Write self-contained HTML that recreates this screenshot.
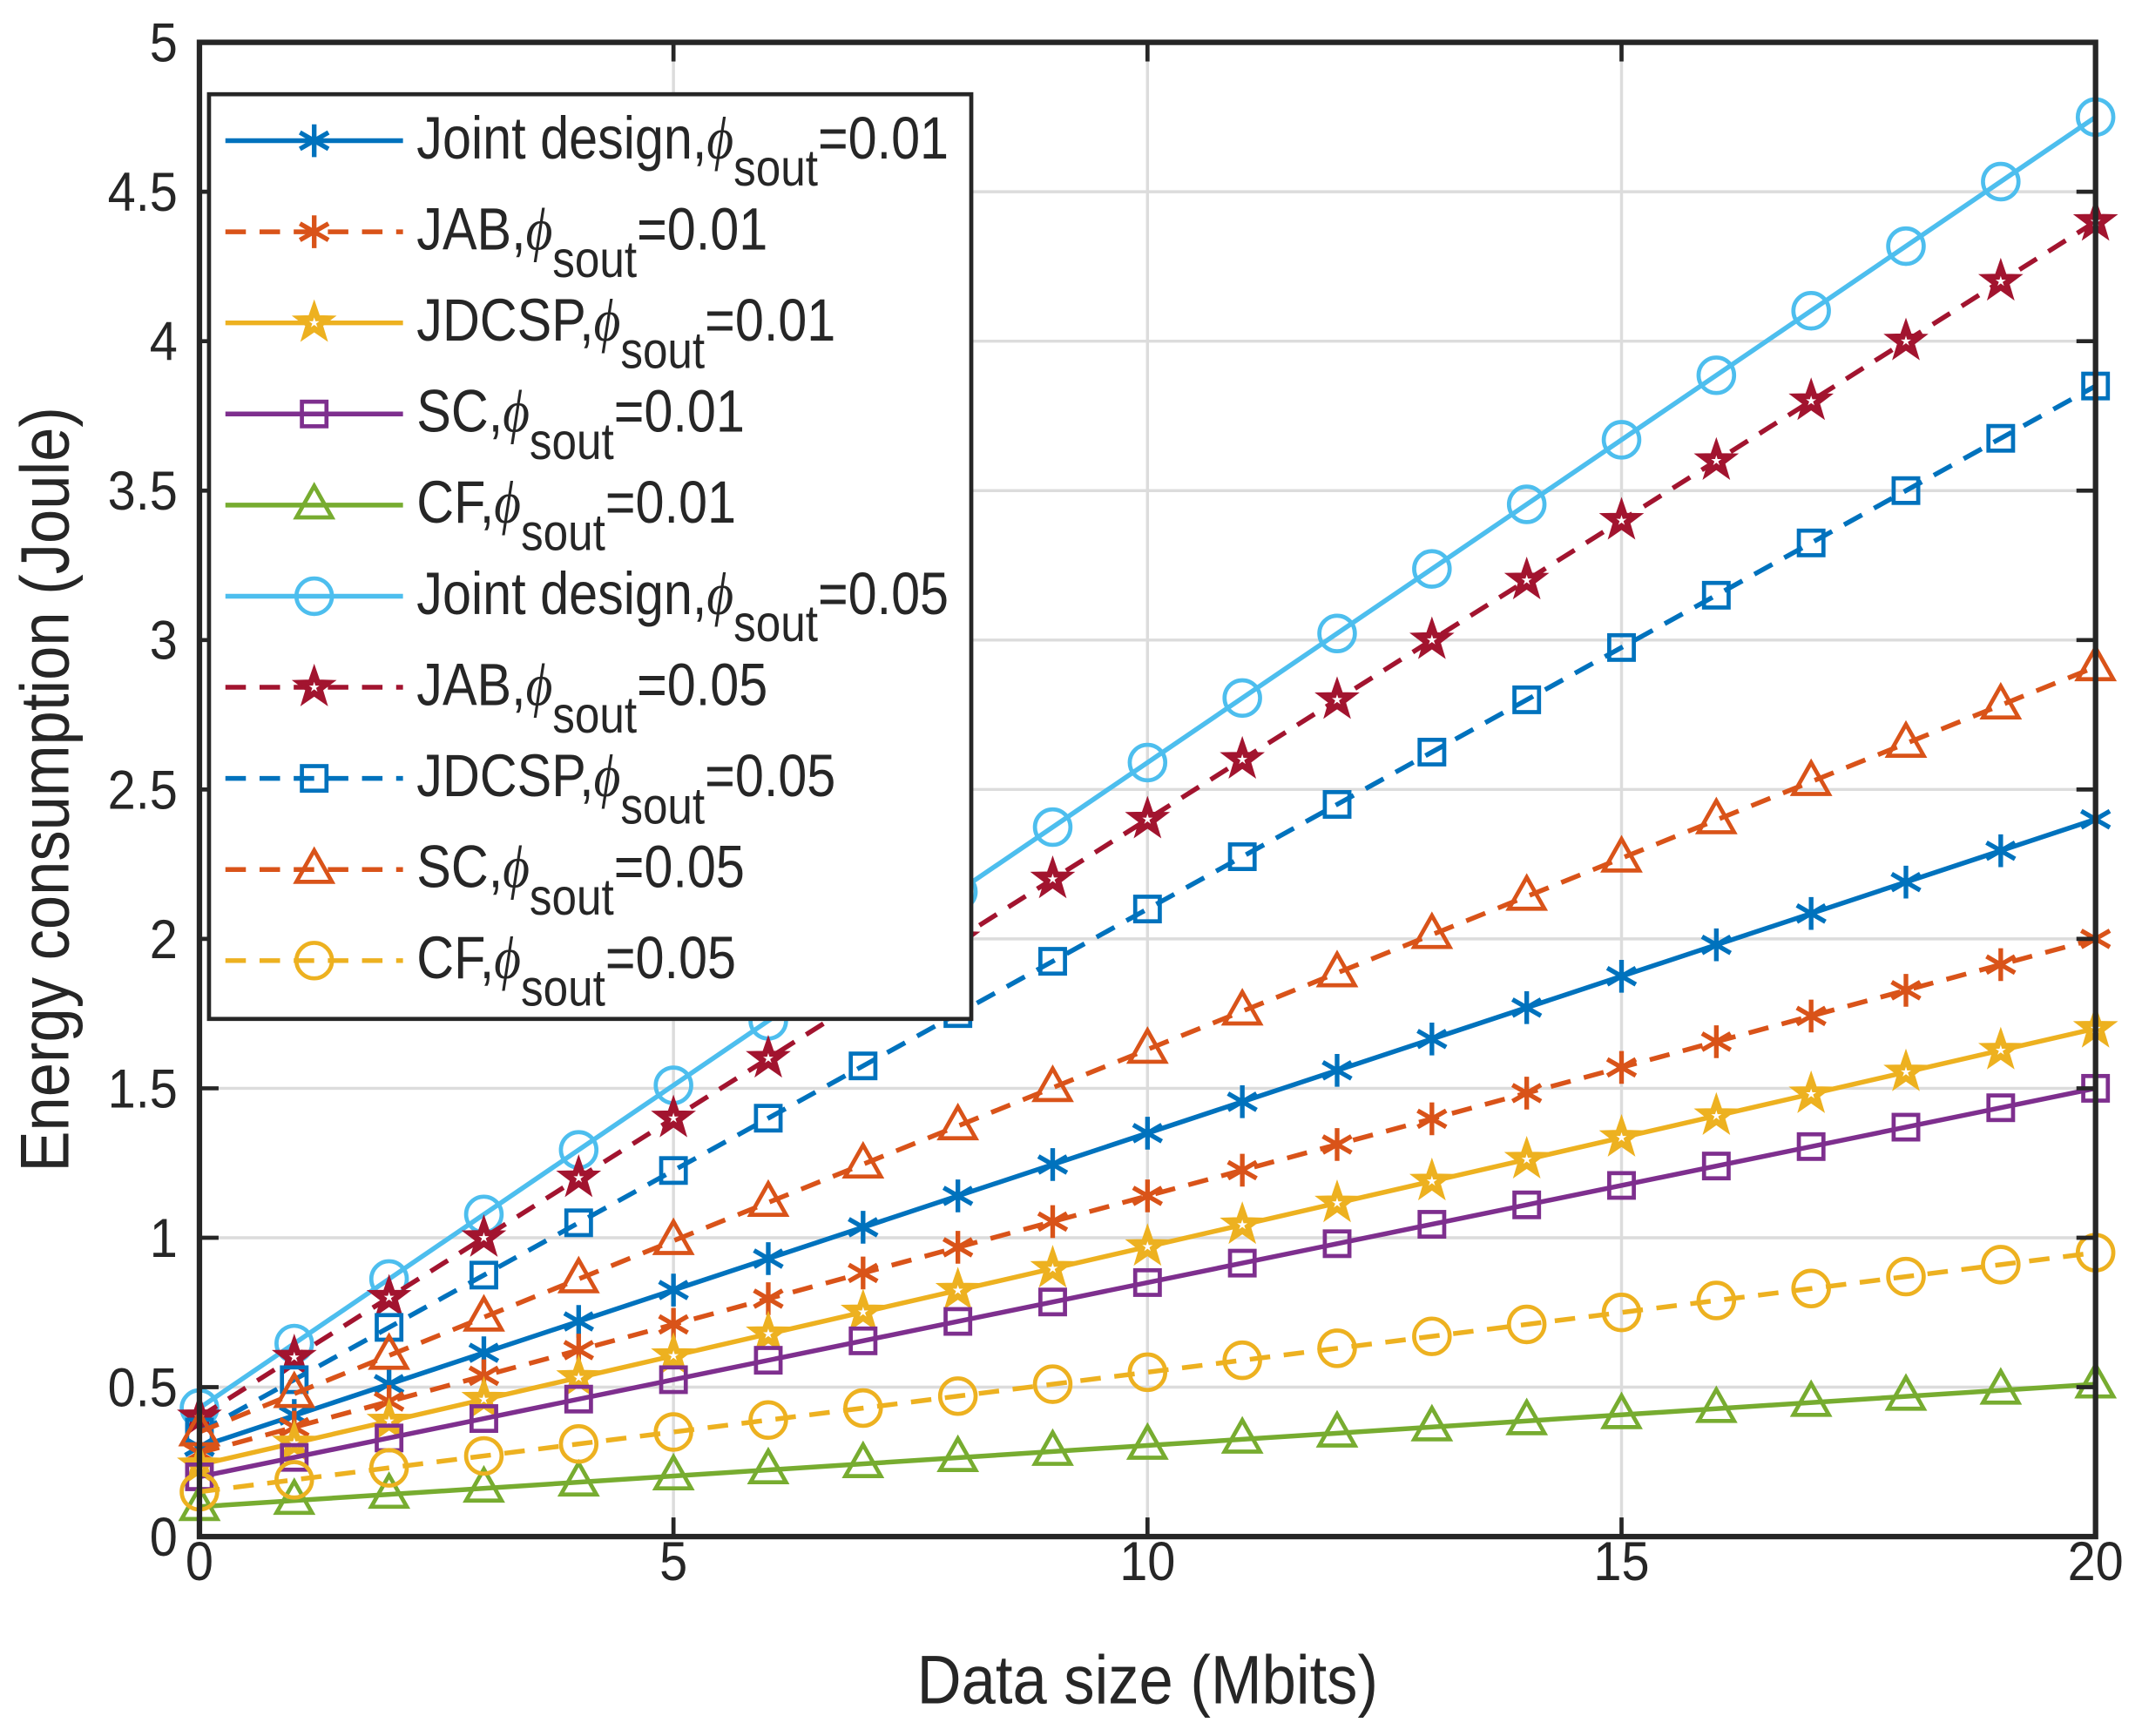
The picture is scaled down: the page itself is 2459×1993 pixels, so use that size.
<!DOCTYPE html>
<html><head><meta charset="utf-8"><style>
html,body{margin:0;padding:0;background:#fff;}
svg{display:block;}
text{font-family:"Liberation Sans",sans-serif;fill:#262626;}
</style></head><body>
<svg id="s" xmlns="http://www.w3.org/2000/svg" width="2459" height="1993" viewBox="0 0 1568 1271" preserveAspectRatio="none">
<rect width="1568" height="1271" fill="#fff"/>
<g id="grid"></g>
<g id="series"></g>
<g id="axes"></g>
<g id="legend"></g>
</svg>
<script>
const NS="http://www.w3.org/2000/svg";
const X0=146,X1=1534,Y0=1125,Y1=31;
const sx=v=>X0+(X1-X0)*v/20, sy=v=>Y0-(Y0-Y1)*v/5;
function el(p,t,a,txt){const e=document.createElementNS(NS,t);for(const k in a)e.setAttribute(k,a[k]);if(txt!==undefined)e.textContent=txt;p.appendChild(e);return e;}
const G=document.getElementById('grid'),S=document.getElementById('series'),A=document.getElementById('axes'),L=document.getElementById('legend');
for(let i=0;i<=20;i+=5){el(G,'line',{x1:sx(i),x2:sx(i),y1:Y0,y2:Y1,stroke:'#dcdcdc','stroke-width':2.2});}
for(let j=0;j<=10;j++){el(G,'line',{x1:X0,x2:X1,y1:sy(j/2),y2:sy(j/2),stroke:'#dcdcdc','stroke-width':2.2});}
function marker(g,type,x,y,c){
  const sw=3;
  if(type==='o'){el(g,'circle',{cx:x,cy:y,r:13,fill:'none',stroke:c,'stroke-width':sw});}
  else if(type==='s'){el(g,'rect',{x:x-9,y:y-9,width:18,height:18,fill:'none',stroke:c,'stroke-width':sw});}
  else if(type==='^'){el(g,'polygon',{points:`${x},${y-14} ${x+13},${y+9} ${x-13},${y+9}`,fill:'none',stroke:c,'stroke-width':sw});}
  else if(type==='*'){const r=12;el(g,'path',{d:`M${x} ${y-r}V${y+r}M${x-r*0.87} ${y-r*0.5}L${x+r*0.87} ${y+r*0.5}M${x-r*0.87} ${y+r*0.5}L${x+r*0.87} ${y-r*0.5}`,stroke:c,'stroke-width':sw+0.4,fill:'none'});}
  else if(type==='p'){let p=[];for(let k=0;k<10;k++){const r=k%2?6:15;const a=-Math.PI/2+k*Math.PI/5;p.push((x+r*Math.cos(a)).toFixed(1)+','+(y+r*Math.sin(a)).toFixed(1));}
    el(g,'polygon',{points:p.join(' '),fill:c,stroke:c,'stroke-width':1.5});
    let q=[];for(let k=0;k<10;k++){const r=k%2?1.5:4;const a=-Math.PI/2+k*Math.PI/5;q.push((x+r*Math.cos(a)).toFixed(1)+','+(y+r*Math.sin(a)).toFixed(1));}
    el(g,'polygon',{points:q.join(' '),fill:'#fff'});}
}
const ser=[
 {a:0.3,b:0.105,c:'#0072BD',d:false,m:'*',n:'Joint design,',v:'0.01'},
 {a:0.28,b:0.086,c:'#D95319',d:true,m:'*',n:'JAB,',v:'0.01'},
 {a:0.24,b:0.073,c:'#EDB120',d:false,m:'p',n:'JDCSP,',v:'0.01'},
 {a:0.2,b:0.065,c:'#7E2F8E',d:false,m:'s',n:'SC,',v:'0.01'},
 {a:0.1,b:0.0205,c:'#77AC30',d:false,m:'^',n:'CF,',v:'0.01'},
 {a:0.43,b:0.216,c:'#4DBEEE',d:false,m:'o',n:'Joint design,',v:'0.05'},
 {a:0.4,b:0.2,c:'#A2142F',d:true,m:'p',n:'JAB,',v:'0.05'},
 {a:0.35,b:0.175,c:'#0072BD',d:true,m:'s',n:'JDCSP,',v:'0.05'},
 {a:0.35,b:0.128,c:'#D95319',d:true,m:'^',n:'SC,',v:'0.05'},
 {a:0.15,b:0.04,c:'#EDB120',d:true,m:'o',n:'CF,',v:'0.05'}];
ser.forEach(s=>{
  const g=el(S,'g',{});
  el(g,'line',{x1:sx(0),y1:sy(s.a),x2:sx(20),y2:sy(s.a+20*s.b),stroke:s.c,'stroke-width':3.5,'stroke-dasharray':s.d?'15 10':'none'});
  for(let i=0;i<=20;i++)marker(g,s.m,sx(i),sy(s.a+i*s.b),s.c);
});
el(A,'rect',{x:X0,y:Y1,width:X1-X0,height:Y0-Y1,fill:'none',stroke:'#262626','stroke-width':4});
for(let i=0;i<=20;i+=5){el(A,'line',{x1:sx(i),x2:sx(i),y1:Y0,y2:Y0-14,stroke:'#262626','stroke-width':3});el(A,'line',{x1:sx(i),x2:sx(i),y1:Y1,y2:Y1+14,stroke:'#262626','stroke-width':3});
  el(A,'text',{x:sx(i),y:1157,'font-size':40,'text-anchor':'middle',transform:`translate(${sx(i)} 0) scale(0.92 1) translate(${-sx(i)} 0)`},String(i));}
for(let j=0;j<=10;j++){const y=sy(j/2);el(A,'line',{x1:X0,x2:X0+14,y1:y,y2:y,stroke:'#262626','stroke-width':3});el(A,'line',{x1:X1,x2:X1-14,y1:y,y2:y,stroke:'#262626','stroke-width':3});
  el(A,'text',{x:130,y:y+14,'font-size':40,'text-anchor':'end',transform:`translate(130 0) scale(0.92 1) translate(-130 0)`},String(j/2));}
el(A,'text',{x:840,y:1247,'font-size':50,'text-anchor':'middle',transform:'translate(840 0) scale(0.9 1) translate(-840 0)'},'Data size (Mbits)');
el(A,'text',{x:0,y:0,'font-size':50,'text-anchor':'middle',transform:'translate(50 578) rotate(-90) scale(0.9 1)'},'Energy consumption (Joule)');
el(L,'rect',{x:153,y:69,width:558,height:677,fill:'#fff',stroke:'#262626','stroke-width':3});
ser.forEach((s,k)=>{
  const y=103+k*66.7;
  el(L,'line',{x1:165,x2:295,y1:y,y2:y,stroke:s.c,'stroke-width':3.5,'stroke-dasharray':s.d?'15 10':'none'});
  marker(L,s.m,230,y,s.c);
  const t=el(L,'text',{x:305,y:y+13,'font-size':44,fill:'#000',transform:'translate(305 0) scale(0.86 1) translate(-305 0)'});
  el(t,'tspan',{},s.n);
  el(t,'tspan',{'font-family':'"Liberation Serif",serif','font-style':'italic'},'ϕ');
  el(t,'tspan',{dy:20,'font-size':38},'sout');
  el(t,'tspan',{dy:-20},'='+s.v);
});
</script>
</body></html>
